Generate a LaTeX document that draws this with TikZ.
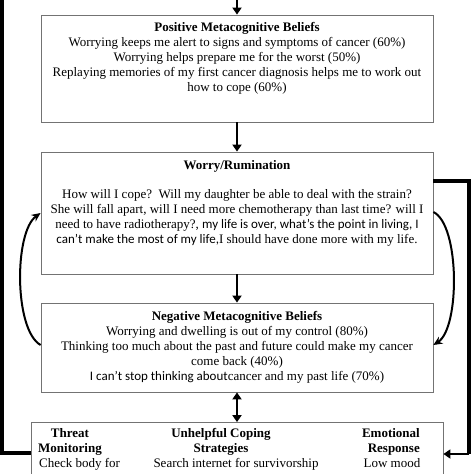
\documentclass[tikz,border=0pt]{standalone}
\usepackage{fontspec}
\setmainfont{Liberation Serif}
\newfontfamily\calfont{Carlito}
\usetikzlibrary{arrows.meta}
\begin{document}
\begin{tikzpicture}[
    x=1pt, y=-1pt,
    box/.style={draw=black!55, line width=0.8pt, minimum width=392pt, inner sep=0pt},
    txt/.style={align=center, inner sep=0pt, font=\fontsize{13}{15}\selectfont},
    arr/.style={line width=2.6pt, -{Triangle[length=7pt,width=9pt]}},
    dbl/.style={line width=2.6pt, {Triangle[length=7pt,width=9pt]}-{Triangle[length=7pt,width=9pt]}},
    frame/.style={line width=3.2pt},
    loop/.style={line width=2pt, -{Stealth[length=9pt,width=8pt]}}
  ]
  \clip (0,0) rectangle (474,474);

  % the four boxes
  \node[box, minimum height=107pt] (pos) at (237,68.5) {};
  \node[box, minimum height=122pt] (worry) at (237,213) {};
  \node[box, minimum height=89pt] (neg) at (237,347.5) {};
  \node[box, minimum width=412pt, minimum height=80pt] (bot) at (237,462.5) {};

  % texts (base = baseline of the last line)
  \node[txt, anchor=base] (postxt) at (237,91.5) {\textbf{Positive Metacognitive Beliefs}\\
    Worrying keeps me alert to signs and symptoms of cancer (60\%)\\
    Worrying helps prepare me for the worst (50\%)\\
    Replaying memories of my first cancer diagnosis helps me to work out\\
    how to cope (60\%)};
  \node[txt, anchor=base] (worrytxt) at (237,243.5) {\textbf{Worry/Rumination}\\[14pt]
    How will I cope?\ \ Will my daughter be able to deal with the strain?\\
    She will fall apart, will I need more chemotherapy than last time? will I\\
    need to have radiotherapy?, {\calfont my life is over, what’s the point in living, I}\\
    {\calfont can’t make the most of my life,}I should have done more with my life.};
  \node[txt, anchor=base] (negtxt) at (237,380.5) {\textbf{Negative Metacognitive Beliefs}\\
    Worrying and dwelling is out of my control (80\%)\\
    Thinking too much about the past and future could make my cancer\\
    come back (40\%)\\
    {\calfont I can’t stop thinking about}cancer and my past life (70\%)};

  \node[txt, anchor=base] (threat) at (70,452.5) {\textbf{Threat}\\\textbf{Monitoring}};
  \node[txt, anchor=base west] (threatbody) at (39,467.5) {Check body for};
  \node[txt, anchor=base] (coping) at (221,452.5) {\textbf{Unhelpful Coping}\\\textbf{Strategies}};
  \node[txt, anchor=base] (copingbody) at (236,467.5) {Search internet for survivorship};
  \node[txt, anchor=base east, align=right] (emotion) at (420,452.5) {\textbf{Emotional}\\\textbf{Response}};
  \node[txt, anchor=base] (emotionbody) at (392,467.5) {Low mood};

  % straight arrows
  \draw[arr] (pos.south) -- (worry.north);
  \draw[arr] (worry.south) -- (neg.north);
  \draw[dbl] (neg.south) -- (bot.north);

  % outer feedback lines
  \coordinate (lcorner) at (2,453);
  \coordinate (ltop) at (2,-8);
  \draw[frame] (bot.west |- lcorner) -- (lcorner) -- (ltop) -- (ltop -| pos.north);
  \draw[arr] (ltop -| pos.north) -- (pos.north);
  \coordinate (rtop) at (469,181);
  \coordinate (rbot) at (469,454);
  \draw[frame] (worry.east |- rtop) -- (rtop) -- (rbot);
  \draw[arr] (rbot) -- (bot.east |- rbot);

  % curved loops between worry and negative beliefs
  \draw[loop] (neg.west |- 0,345) .. controls (14,330) and (14,232) .. (worry.west |- 0,213);
  \draw[loop] (worry.east |- 0,212) .. controls (460,225) and (460,328) .. (neg.east |- 0,345);
\end{tikzpicture}
\end{document}
